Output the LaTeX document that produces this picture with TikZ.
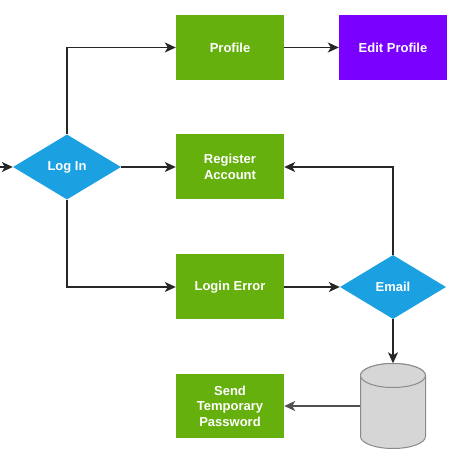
\documentclass[tikz,border=0pt]{standalone}
\usepackage{fontspec}
\setmainfont{Liberation Sans}
\usetikzlibrary{shapes.geometric,arrows.meta}
\definecolor{grn}{HTML}{66B00E}
\definecolor{prp}{HTML}{7A00FF}
\definecolor{blu}{HTML}{1BA1E2}
\definecolor{cylf}{HTML}{D6D6D6}
\definecolor{cyls}{HTML}{8A8A8A}
\definecolor{ln}{HTML}{262626}
\tikzset{
  txt/.style={text=white, font=\fontsize{13}{15.5}\selectfont\bfseries, align=center, inner sep=0pt},
  gbox/.style={txt, rectangle, fill=grn, minimum width=108pt, minimum height=65pt},
  pbox/.style={txt, rectangle, fill=prp, minimum width=108pt, minimum height=65pt},
  dia/.style={txt, diamond, fill=blu, aspect=1.66, minimum width=108pt, minimum height=65pt},
  arr/.style={draw=ln, line width=1.4pt, -{Stealth[length=11pt,width=10pt,inset=3pt]}},
  cyl/.style={fill=cylf, draw=cyls, line width=1pt}
}
\begin{document}
\begin{tikzpicture}[x=1pt,y=1pt]
\useasboundingbox (0,0) rectangle (464,464);
\node[gbox] (profile) at (230,416.5) {Profile};
\node[pbox] (edit) at (393,416.5) {Edit Profile};
\node[dia] (login) at (67,297) {Log In};
\node[gbox] (register) at (230,297) {Register\\Account};
\node[gbox] (lerr) at (230,177) {Login Error};
\node[dia, minimum width=106pt, minimum height=64pt] (email) at (393,177) {Email};
\node[gbox, minimum height=64pt] (send) at (230,58) {Send\\Temporary\\Password};
% cylinder
\node[minimum width=65pt, minimum height=85pt, inner sep=0pt] (db) at (393,58) {};
\draw[cyl] (360.5,88.5) -- (360.5,27.5) arc[start angle=180,end angle=360,x radius=32.5pt,y radius=12pt] -- (425.5,88.5) arc[start angle=0,end angle=180,x radius=32.5pt,y radius=12pt] -- cycle;
\draw[cyl] (393,88.5) ellipse[x radius=32.5pt,y radius=12pt];
\coordinate (start) at (0,297);
\draw[arr] (start) -- (login.west);
\draw[arr] (login.north) |- (profile.west);
\draw[arr] (login.east) -- (register.west);
\draw[arr] (login.south) |- (lerr.west);
\draw[arr] (profile.east) -- (edit.west);
\draw[arr] (lerr.east) -- (email.west);
\draw[arr] (email.north) |- (register.east);
\draw[arr] (email.south) -- (db.north);
\draw[arr, draw=ln!80] (db.west) -- (send.east);
\end{tikzpicture}
\end{document}
